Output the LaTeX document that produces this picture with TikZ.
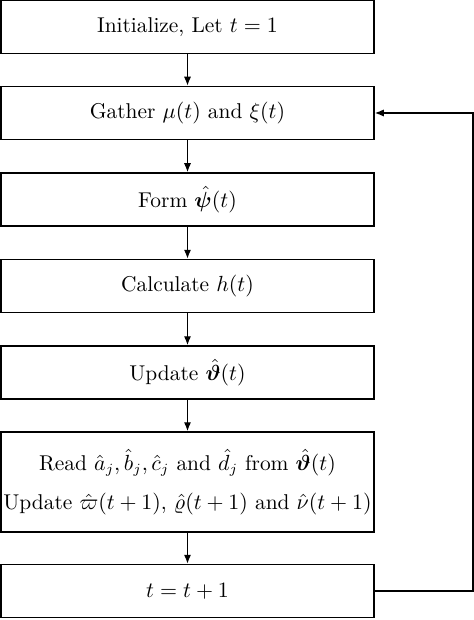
\documentclass[tikz,border=0pt]{standalone}
\usepackage{amsmath}
\usepackage{bm}
\usetikzlibrary{arrows.meta}
\begin{document}
\begin{tikzpicture}[x=0.5pt,y=-0.5pt,
  box/.style={draw,line width=0.75pt,minimum width=186.5pt,minimum height=26.5pt,inner sep=0pt,align=center,font=\fontsize{10.7}{19.5}\selectfont},
  arr/.style={line width=0.7pt,-{Latex[length=4.5pt,width=3.6pt]}}]
\useasboundingbox (0,0) rectangle (474,620);
\node[box] (b1) at (187.5,27) {Initialize, Let $t=1$};
\node[box] (b2) at (187.5,113) {Gather $\mu(t)$ and $\xi(t)$};
\node[box] (b3) at (187.5,199.5) {Form $\hat{\bm{\psi}}(t)$};
\node[box] (b4) at (187.5,286) {Calculate $h(t)$};
\node[box] (b5) at (187.5,372.5) {Update $\hat{\bm{\vartheta}}(t)$};
\node[box,minimum height=50pt] (b6) at (187.5,482) {Read $\hat{a}_j,\hat{b}_j,\hat{c}_j$ and $\hat{d}_j$ from $\hat{\bm{\vartheta}}(t)$\\Update $\hat{\varpi}(t+1)$, $\hat{\varrho}(t+1)$ and $\hat{\nu}(t+1)$};
\node[box] (b7) at (187.5,591) {$t=t+1$};
\coordinate (c1) at (473,591);
\coordinate (c2) at (473,113);
\draw[arr] (b1) -- (b2);
\draw[arr] (b2) -- (b3);
\draw[arr] (b3) -- (b4);
\draw[arr] (b4) -- (b5);
\draw[arr] (b5) -- (b6);
\draw[arr] (b6) -- (b7);
\draw[arr] (b7.east) -- (c1) -- (c2) -- (b2.east);
\end{tikzpicture}
\end{document}
